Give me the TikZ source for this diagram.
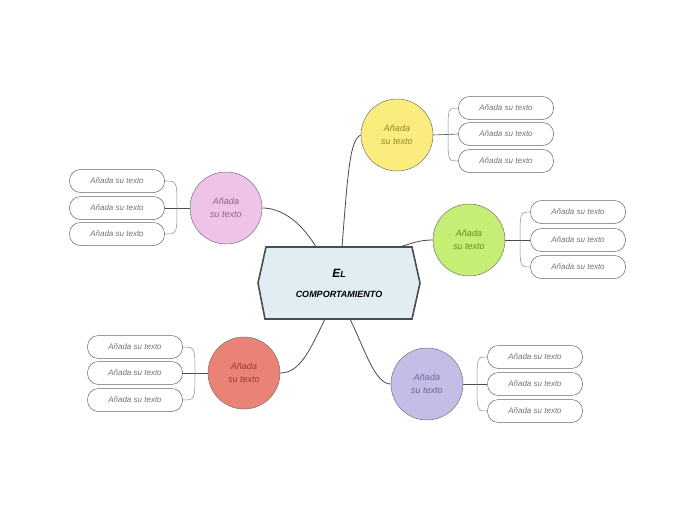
\documentclass[tikz,border=0pt]{standalone}
\usepackage{fontspec}
\setmainfont{Liberation Sans}
\begin{document}
\begin{tikzpicture}[x=1pt,y=-1pt,
  conn/.style={draw=black!70,line width=0.8pt},
  br/.style={draw=black!45,line width=0.5pt},
  pill/.style={draw=black!60,rounded corners=11pt,minimum width=95pt,minimum height=23pt,font=\itshape\fontsize{8}{9}\selectfont,text=black!55,line width=0.5pt,inner sep=0pt},
  topic/.style={circle,draw=black!55,minimum size=72pt,inner sep=0pt,align=center,font=\itshape\fontsize{9}{13}\selectfont,line width=0.5pt}]
\useasboundingbox (0,0) rectangle (697,520);
\fill[white] (0,0) rectangle (697,520);
\coordinate (c) at (339,283);
\definecolor{hexfill}{RGB}{224,237,243}
\draw[fill=hexfill, draw=black!70, line width=1.6pt]
 (266,247) -- (412,247) -- (420,283) -- (412,319) -- (265,319) -- (258,283) -- cycle;
\node[align=center,font=\bfseries\itshape\fontsize{12}{20}\selectfont] (main) at (c) {E{\fontsize{9}{9}\selectfont L}\\{\fontsize{9}{9}\selectfont COMPORTAMIENTO}};
\coordinate (hy) at (342,247); \coordinate (hg) at (400,247); \coordinate (hp) at (316,247);
\coordinate (hr) at (325,319); \coordinate (hu) at (350,319);
% topics
\node[topic,fill={rgb,255:red,250;green,236;blue,125},text={rgb,255:red,150;green,130;blue,40}] (ty) at (397,135) {Añada\\su texto};
\node[topic,fill={rgb,255:red,197;green,238;blue,117},text={rgb,255:red,100;green,140;blue,40}] (tg) at (469,240) {Añada\\su texto};
\node[topic,fill={rgb,255:red,239;green,194;blue,231},text={rgb,255:red,150;green,90;blue,140}] (tp) at (226,208) {Añada\\su texto};
\node[topic,fill={rgb,255:red,235;green,130;blue,118},text={rgb,255:red,150;green,60;blue,50}] (tr) at (244,373) {Añada\\su texto};
\node[topic,fill={rgb,255:red,196;green,189;blue,230},text={rgb,255:red,110;green,100;blue,160}] (tu) at (427,384) {Añada\\su texto};
\draw[conn] (hy) .. controls (348,170) and (350,140) .. (ty.west);
\draw[conn] (hg) .. controls (412,243) and (420,240) .. (tg.west);
\draw[conn] (hp) .. controls (300,220) and (280,208) .. (tp.east);
\draw[conn] (hr) .. controls (310,350) and (300,373) .. (tr.east);
\draw[conn] (hu) .. controls (365,350) and (375,384) .. (tu.west);
\foreach \n/\x/\y in {y/506/108, y/506/134, y/506/161, g/578/212, g/578/240, g/578/267, u/535/357, u/535/384, u/535/411, p/117/181, p/117/208, p/117/234, r/135/347, r/135/373, r/135/400}{
  \node[pill] (p\n\y) at (\x,\y) {Añada su texto};
}
\foreach \t/\a/\b/\cc/\m in {ty/py108/py134/py161/448, tg/pg212/pg240/pg267/520, tu/pu357/pu384/pu411/477}{
  \draw[conn,line width=0.6pt] (\t.east) -- (\b.west);
  \draw[br] (\a.west) .. controls (\m,0|-\a.west) .. (\m,0|-\b.west);
  \draw[br] (\cc.west) .. controls (\m,0|-\cc.west) .. (\m,0|-\b.west);
}
\foreach \t/\a/\b/\cc/\m in {tp/pp181/pp208/pp234/177, tr/pr347/pr373/pr400/195}{
  \draw[conn,line width=0.6pt] (\t.west) -- (\b.east);
  \draw[br] (\a.east) .. controls (\m,0|-\a.east) .. (\m,0|-\b.east);
  \draw[br] (\cc.east) .. controls (\m,0|-\cc.east) .. (\m,0|-\b.east);
}
\end{tikzpicture}
\end{document}
